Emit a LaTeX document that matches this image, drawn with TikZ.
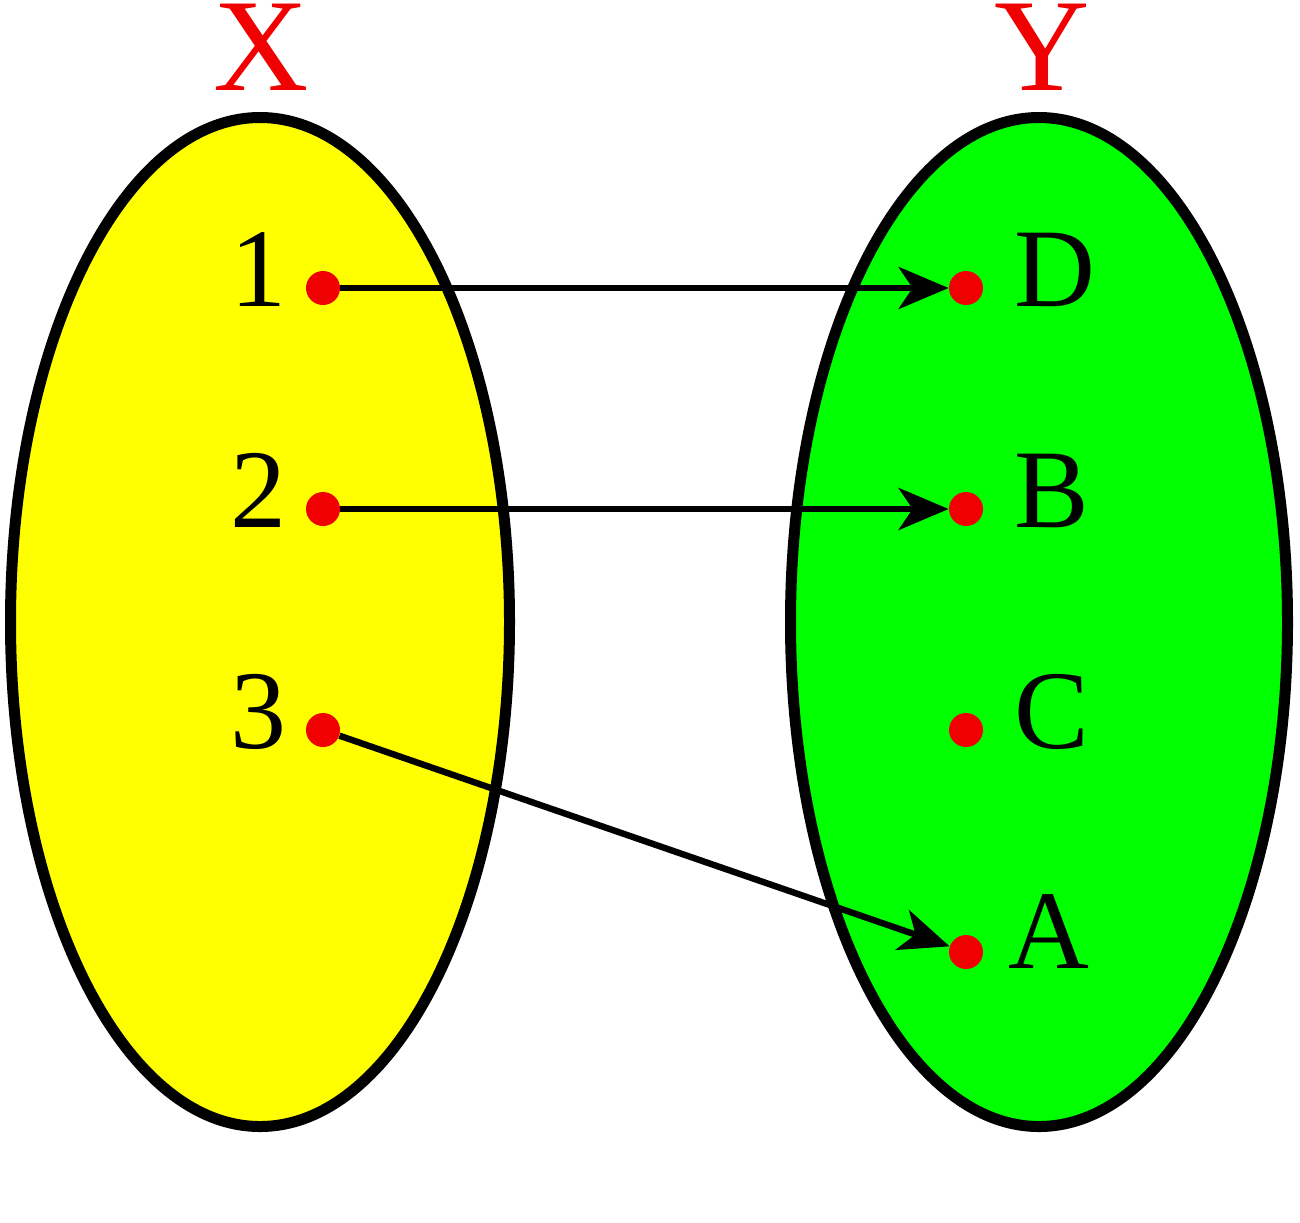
\documentclass[tikz,border=0pt]{standalone}
\usepackage{fontspec}
\setmainfont{Liberation Serif}
\usetikzlibrary{arrows.meta}
\definecolor{setyellow}{RGB}{255,255,0}
\definecolor{setgreen}{RGB}{0,255,0}
\definecolor{dotred}{RGB}{240,0,0}
\definecolor{titlered}{RGB}{240,0,0}
\tikzset{
  setshape/.style={draw=black, line width=5.5pt},
  pt/.style={circle, fill=dotred, draw=none, minimum size=17pt, inner sep=0pt},
  elemlabel/.style={inner sep=0pt, font=\fontsize{56}{60}\selectfont, text=black},
  settitle/.style={inner sep=0pt, anchor=base, font=\fontsize{66}{70}\selectfont, text=titlered},
  maparrow/.style={draw=black, line width=3.2pt, -{Stealth[length=25pt, width=21pt, inset=7pt]}}
}
\begin{document}
\begin{tikzpicture}[x=0.5pt, y=-0.5pt]
\useasboundingbox (0,0) rectangle (1300,1222);
% sets
\draw[setshape, fill=setyellow] (260,622) ellipse [x radius=249.5, y radius=504.5];
\draw[setshape, fill=setgreen] (1039,622) ellipse [x radius=248.5, y radius=504.5];
% titles
\node[settitle] (tX) at (261,90) {X};
\node[settitle] (tY) at (1042,90) {Y};
% points
\node[pt] (p1) at (323,288) {};
\node[pt] (p2) at (323,509) {};
\node[pt] (p3) at (323,730) {};
\node[pt] (qD) at (966,288) {};
\node[pt] (qB) at (966,509) {};
\node[pt] (qC) at (966,730) {};
\node[pt] (qA) at (966,952) {};
% labels
\node[elemlabel, anchor=base east] (l1) at (287,306) {1};
\node[elemlabel, anchor=base east] (l2) at (287,527) {2};
\node[elemlabel, anchor=base east] (l3) at (287,748) {3};
\node[elemlabel, anchor=base west] (lD) at (1014,306) {D};
\node[elemlabel, anchor=base west] (lB) at (1014,527) {B};
\node[elemlabel, anchor=base west] (lC) at (1014,748) {C};
\node[elemlabel, anchor=base west] (lA) at (1008,968) {A};
% mapping
\draw[maparrow] (p1) -- (qD);
\draw[maparrow] (p2) -- (qB);
\draw[maparrow] (p3) -- (qA);
\end{tikzpicture}
\end{document}
